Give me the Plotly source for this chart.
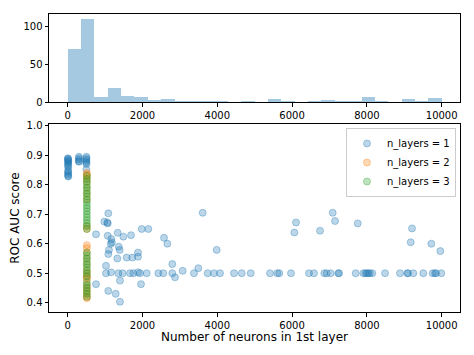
import plotly.graph_objects as go
from plotly.subplots import make_subplots

# ---- histogram (all runs) ----
bin_start = 0
bin_end = 10000
hist_counts = [71, 111, 6, 19, 8, 7, 3, 4, 1, 1, 2, 1, 0, 1, 0, 4, 2, 0, 2, 3, 1, 1, 6, 1, 0, 4, 1, 5]

# ---- scatter data ----
l1_x = [5, 8, 10, 12, 16, 10, 8, 12, 10, 16, 10, 8, 12, 10, 16,
        300, 300, 300, 300, 300,
        500, 500, 500, 500, 500, 500, 500,
        757, 1086, 979, 1070, 1060, 1070, 1166, 1337, 1487, 1693, 1364, 1150, 1180, 1104, 1390,
        1086, 1880, 1327, 1577, 1728, 1880, 1979, 2157, 2575, 2664, 1024, 2797, 2869, 3074,
        757, 1086, 1283, 1398, 1398, 1960,
        1024, 1158, 1354, 1470, 1666, 1755, 1880, 1933, 2112, 2423, 2557, 2797, 3377, 3493,
        3610, 3984, 3743, 3912, 4073, 4447, 4653, 4894, 5410, 5605, 5658, 5971, 6452, 6586,
        6862, 6925, 7032, 7236, 6105, 6060, 6747, 7086, 7148, 7755, 9207, 9172, 9723, 9964,
        7255, 7701, 7905, 8039, 8146, 8485, 8886, 9081, 9242, 9509, 9760, 9822, 9990,
        7960, 8000, 8080, 9100, 9850]
l1_y = [0.89, 0.888, 0.885, 0.882, 0.878, 0.875, 0.87, 0.865, 0.86, 0.85, 0.845, 0.84, 0.835, 0.83, 0.828,
        0.895, 0.89, 0.885, 0.88, 0.878,
        0.895, 0.89, 0.885, 0.88, 0.875, 0.87, 0.852,
        0.632, 0.703, 0.675, 0.669, 0.672, 0.627, 0.616, 0.637, 0.624, 0.629, 0.59, 0.60, 0.605, 0.579, 0.579,
        0.565, 0.57, 0.55, 0.553, 0.553, 0.556, 0.65, 0.65, 0.62, 0.60, 0.525, 0.531, 0.486, 0.508,
        0.463, 0.44, 0.43, 0.403, 0.475, 0.463,
        0.5, 0.503, 0.5, 0.5, 0.5, 0.5, 0.503, 0.5, 0.5, 0.5, 0.5, 0.5, 0.5, 0.517,
        0.705, 0.579, 0.5, 0.5, 0.5, 0.5, 0.5, 0.5, 0.5, 0.5, 0.5, 0.5, 0.5, 0.5,
        0.5, 0.5, 0.5, 0.5, 0.672, 0.638, 0.644, 0.705, 0.677, 0.669, 0.652, 0.605, 0.6, 0.575,
        0.5, 0.5, 0.5, 0.5, 0.5, 0.5, 0.5, 0.5, 0.5, 0.5, 0.5, 0.5, 0.5,
        0.5, 0.5, 0.5, 0.5, 0.5]

l2_y = [0.84, 0.835, 0.83, 0.82, 0.81, 0.79, 0.77, 0.75, 0.66, 0.65, 0.595, 0.585, 0.57, 0.55,
        0.53, 0.51, 0.50, 0.49, 0.485, 0.48, 0.46, 0.45, 0.44, 0.43, 0.42, 0.415]
l2_x = [512] * len(l2_y)
l3_y = [0.83, 0.82, 0.81, 0.80, 0.79, 0.78, 0.77, 0.76, 0.75, 0.74, 0.73, 0.72, 0.71, 0.70, 0.69,
        0.68, 0.67, 0.66, 0.65, 0.57, 0.56, 0.55, 0.54, 0.53, 0.52, 0.51, 0.50, 0.49, 0.47, 0.46,
        0.45, 0.44, 0.43, 0.42]
l3_x = [512] * len(l3_y)

x_ticks = [0, 2000, 4000, 6000, 8000, 10000]
x_tick_labels = ["0", "2000", "4000", "6000", "8000", "10000"]
hist_ticks = [0, 50, 100]
auc_ticks = [0.4, 0.5, 0.6, 0.7, 0.8, 0.9, 1.0]

# ---- figure ----
W, H = 474, 355
ml, mr, mt, mb = 49, 14, 14, 43
ph = H - mt - mb

def py2paper(py):
    return (H - mb - py) / ph

fig = make_subplots(rows=2, cols=1)

n = len(hist_counts)
width = (bin_end - bin_start) / n
centers = [bin_start + width * (i + 0.5) for i in range(n)]
fig.add_trace(go.Bar(x=centers, y=hist_counts, width=[width] * n,
                     marker=dict(color="rgba(31,119,180,0.4)", line=dict(width=0)),
                     showlegend=False, hoverinfo="skip"), row=1, col=1)

def scat(x, y, rgb, name):
    return go.Scatter(x=x, y=y, mode="markers", name=name,
                      marker=dict(size=7, color=f"rgba({rgb},0.3)",
                                  line=dict(width=1, color=f"rgba({rgb},0.35)")))

fig.add_trace(scat(l1_x, l1_y, "31,119,180", "n_layers = 1"), row=2, col=1)
fig.add_trace(scat(l2_x, l2_y, "255,127,14", "n_layers = 2"), row=2, col=1)
fig.add_trace(scat(l3_x, l3_y, "44,160,44", "n_layers = 3"), row=2, col=1)

axis_common = dict(showline=True, mirror=True, linecolor="black", linewidth=1,
                   ticks="outside", ticklen=3.5, tickwidth=1, tickcolor="black",
                   showgrid=False, zeroline=False, automargin=False)

fig.update_xaxes(range=[-500, 10490], tickvals=x_ticks, ticktext=x_tick_labels, **axis_common)
fig.update_xaxes(domain=[0, 1], row=1, col=1)
fig.update_xaxes(domain=[0, 1], title=dict(text="Number of neurons in 1st layer", standoff=3),
                 row=2, col=1)
fig.update_yaxes(range=[0, 117], tickvals=hist_ticks, domain=[py2paper(102), 1.0],
                 row=1, col=1, **axis_common)
fig.update_yaxes(range=[0.3685, 1.005], tickvals=auc_ticks, tickformat=".1f",
                 domain=[0, py2paper(124.3)], title=dict(text="ROC AUC score", standoff=4),
                 row=2, col=1, **axis_common)

fig.update_layout(
    width=W, height=H,
    margin=dict(l=ml, r=mr, t=mt, b=mb, autoexpand=False, pad=0),
    plot_bgcolor="white", paper_bgcolor="white",
    font=dict(family="DejaVu Sans", size=10, color="black"),
    bargap=0,
    legend=dict(x=(456 - ml) / (W - ml - mr), y=py2paper(128), xanchor="right", yanchor="top",
                bgcolor="rgba(255,255,255,0.8)", bordercolor="#cccccc", borderwidth=1,
                font=dict(size=10), tracegroupgap=0),
)

fig.write_html("out.html", config={"displayModeBar": False},
               post_script="document.body.style.margin='0';")
